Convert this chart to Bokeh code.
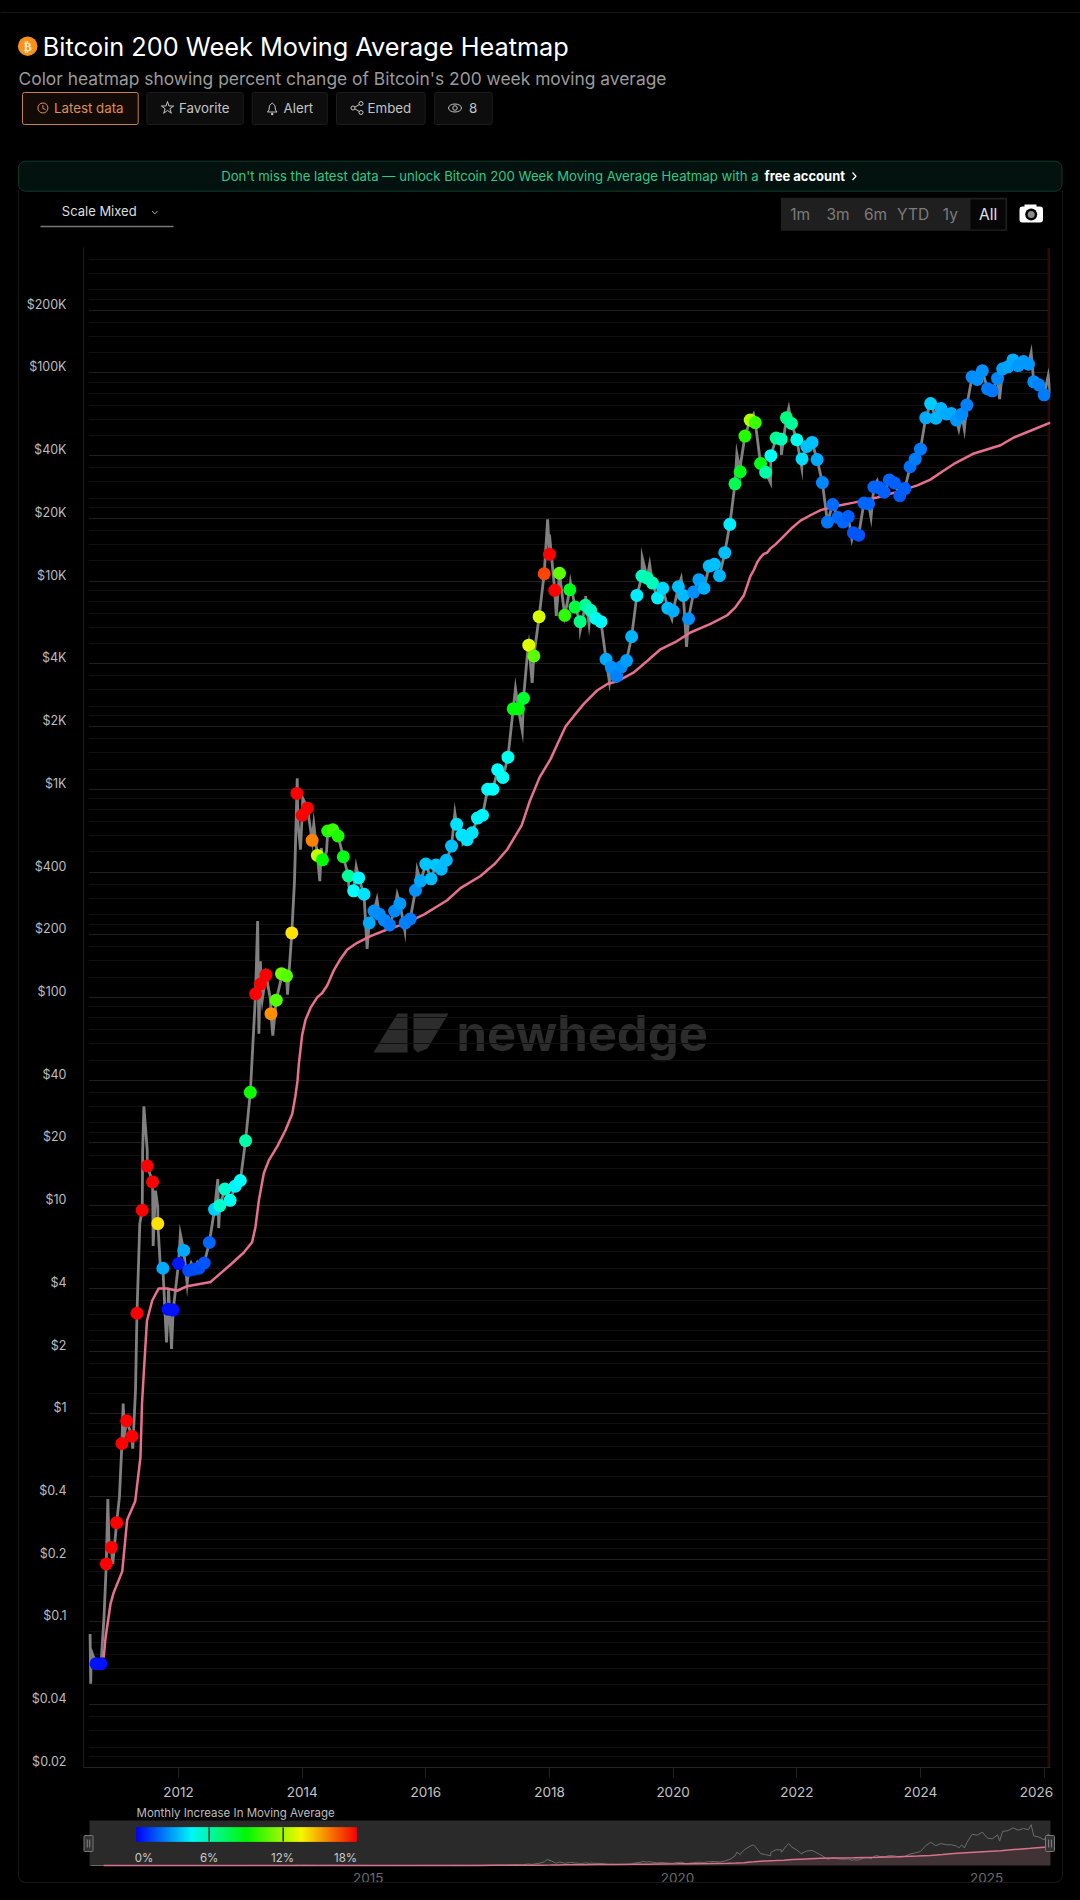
import numpy as np
import pandas as pd
from bokeh.core.properties import value
from bokeh.embed import file_html
from bokeh.layouts import column
from bokeh.models import BoxAnnotation, FixedTicker, LinearScale, LogAxis, LogScale, Range1d
from bokeh.plotting import figure
from bokeh.resources import INLINE

TITLE = "Bitcoin 200 Week Moving Average Heatmap"
SUBTITLE = "Color heatmap showing percent change of Bitcoin's 200 week moving average"
LEGEND_TITLE = "Monthly Increase In Moving Average"
BANNER_A = "Don't miss the latest data \u2014 unlock Bitcoin 200 Week Moving Average Heatmap with a"
BANNER_B = "free account"

# monthly markers, first value is September 2010
PRICE_2010 = [0.063, 0.063, 0.19, 0.228]
PRICE_2011 = [0.30, 0.72, 0.925, 0.78, 3.04, 9.5, 15.5, 13, 8.2, 5.0, 3.18, 3.15]
PRICE_2012 = [5.27, 6.09, 4.88, 4.95, 5.0, 5.3, 6.65, 9.6, 10, 12, 10.6, 12.4]
PRICE_2013 = [13.2, 20.5, 35, 104, 116, 128, 83.5, 97, 130, 127, 204, 955]
PRICE_2014 = [750, 811, 568, 481, 458, 630, 638, 596, 474, 383, 325, 375]
PRICE_2015 = [313, 228, 260, 251, 235, 223, 260, 282, 228, 238, 327, 362]
PRICE_2016 = [437, 371, 433, 413, 456, 533, 678, 602, 572, 618, 727, 750]
PRICE_2017 = [1000, 1000, 1240, 1140, 1425, 2432, 2432, 2735, 4920, 4370, 6740, 10840]
PRICE_2018 = [13430, 9020, 10900, 6840, 9080, 7500, 6380, 7640, 7230, 6620, 6380, 4210]
PRICE_2019 = [3850, 3490, 3870, 4150, 5410, 8530, 10570, 10330, 9780, 8290, 9230, 7410]
PRICE_2020 = [7180, 9390, 8530, 6590, 8850, 10150, 9230, 11800, 12030, 10600, 13680, 18720]
PRICE_2021 = [29300, 33500, 49700, 59300, 57700, 36700, 33300, 40000, 48600, 48000, 60800, 57100]
PRICE_2022 = [47700, 38600, 44300, 46300, 38300, 29700, 19200, 23300, 20200, 19200, 20400, 17050]
PRICE_2023 = [16600, 23700, 23500, 28300, 28100, 26700, 30600, 29600, 25700, 27800, 35400, 38500]
PRICE_2024 = [43000, 60800, 71200, 60600, 67400, 63500, 63700, 59300, 63300, 70000, 95700, 92900]
PRICE_2025 = [102300, 83800, 82000, 94000, 104500, 106900, 115400, 108400, 113300, 110000, 90500, 87600]
PRICE_2026 = [78400]

PCT_2010 = [0.3, 0.3, 18, 18]
PCT_2011 = [18, 18, 18, 18, 18, 18, 18, 18, 14, 3, 0.3, 0.3]
PCT_2012 = [0.4, 3.0, 1.3, 1.3, 1.4, 1.5, 1.8, 3.6, 5.4, 5.4, 4.8, 4.3]
PCT_2013 = [4.5, 6, 9.2, 18, 18, 18, 15.5, 10.5, 11, 10.5, 14, 18]
PCT_2014 = [18, 18, 15.7, 12.5, 9, 9.5, 10, 9.5, 8.6, 6.3, 4.5, 4.4]
PCT_2015 = [4, 3, 2.6, 2.5, 2.4, 2.2, 2.4, 2.7, 2.3, 2.2, 2.6, 3]
PCT_2016 = [3.5, 3.3, 3.5, 3.3, 3.3, 3.4, 4, 4, 4, 4, 4.3, 4.3]
PCT_2017 = [4.4, 4.5, 4.5, 4.6, 4.8, 8.8, 8.8, 8.2, 12.9, 10.6, 12.8, 16.8]
PCT_2018 = [18, 18, 10.6, 9.8, 8.5, 8, 6.7, 6.3, 5.6, 4.8, 4.4, 3]
PCT_2019 = [2.6, 2.3, 2.5, 2.8, 3.2, 4.2, 5.5, 6, 5.7, 4.2, 3.8, 3.3]
PCT_2020 = [3.1, 3.4, 3.3, 2.6, 2.5, 2.9, 3.1, 3.3, 3.4, 3.2, 3.4, 4.2]
PCT_2021 = [7.5, 8.5, 9.6, 12, 10, 8.7, 6, 4.7, 6.6, 5.8, 6.8, 6.3]
PCT_2022 = [4.9, 3.9, 3.4, 3.4, 3, 2.4, 2.1, 1.9, 1.9, 1.8, 1.7, 1.5]
PCT_2023 = [1.5, 1.8, 1.8, 1.8, 1.8, 1.7, 1.8, 1.7, 1.6, 1.7, 2, 2.2]
PCT_2024 = [2.2, 3, 3.6, 3.2, 3.2, 3, 3, 2.7, 2.5, 2.3, 2.5, 2.6]
PCT_2025 = [2.6, 2.2, 2.1, 2.4, 2.8, 2.9, 3, 2.7, 2.7, 2.7, 2.5, 2.3]
PCT_2026 = [2.2]

# highs and lows of the weekly price between the monthly markers
SWING_YEAR = [2010.57, 2010.58, 2010.59, 2010.795, 2010.857, 2010.876, 2010.937, 2011.045, 2011.105, 2011.127,
              2011.26, 2011.305, 2011.374, 2011.42, 2011.44, 2011.494, 2011.59, 2011.628, 2011.665, 2011.71,
              2011.806, 2011.838, 2011.887, 2012.03, 2012.14, 2012.205, 2012.30, 2012.636, 2012.65,
              2013.28, 2013.30, 2013.326, 2013.354, 2013.435, 2013.487, 2013.525, 2013.65, 2013.763, 2013.876,
              2013.92, 2013.93, 2013.973, 2014.01, 2014.188, 2014.285, 2014.31, 2014.394, 2014.754, 2014.874,
              2015.05, 2015.21, 2015.537, 2015.66, 2015.86, 2016.47, 2016.6, 2017.45, 2017.56, 2017.64, 2017.72,
              2017.97, 2018.0, 2018.11, 2018.34, 2018.5, 2018.585, 2018.64, 2018.97, 2019.5, 2019.62, 2019.98,
              2020.13, 2020.217, 2021.03, 2021.09, 2021.3, 2021.575, 2021.75, 2021.87, 2022.08, 2022.89, 2023.2,
              2023.3, 2024.62, 2024.71, 2025.28, 2025.79, 2026.066, 2026.10]
SWING_PRICE = [0.0876, 0.0505, 0.0726, 0.105, 0.39, 0.24, 0.19, 0.40, 1.12, 0.8,
               0.68, 1.3, 8.2, 18, 30, 18.5, 6.4, 11.8, 9.8, 4.9,
               2.2, 4, 2.05, 7.3, 4.2, 5.3, 5.3, 13.4, 7.8,
               233, 67, 149, 97, 119, 98, 65.5, 119, 103, 362,
               1130, 700, 513, 905, 680, 362, 522, 500, 342, 425,
               171, 296, 313, 210, 412, 770, 546, 3050, 1910, 4370, 3240,
               19800, 16700, 6800, 9800, 5860, 8470, 6190, 3270, 12940, 12030, 6570,
               10300, 4830, 40800, 36400, 63300, 29700, 40400, 67700, 35100, 15900, 20200,
               30300, 53600, 53600, 74800, 125000, 96700, 79500]

MA_YEAR = [2010.79, 2010.82, 2010.90, 2010.95, 2011.09, 2011.17, 2011.30, 2011.385, 2011.41, 2011.44, 2011.49,
           2011.575, 2011.68, 2011.82, 2011.98, 2012.14, 2012.52, 2012.84, 2013.056, 2013.19, 2013.245, 2013.30,
           2013.38, 2013.46, 2013.60, 2013.73, 2013.84, 2013.89, 2013.925, 2013.945, 2014.0, 2014.054, 2014.135,
           2014.243, 2014.324, 2014.405, 2014.512, 2014.62, 2014.73, 2014.89, 2015.105, 2015.375, 2015.644, 2015.967,
           2016.346, 2016.56, 2016.885, 2017.12, 2017.32, 2017.55, 2017.68, 2017.84, 2018.017, 2018.125, 2018.26,
           2018.395, 2018.555, 2018.77, 2018.935, 2019.095, 2019.365, 2019.58, 2019.795, 2020.065, 2020.28, 2020.605,
           2020.875, 2021.01, 2021.145, 2021.25, 2021.305, 2021.36, 2021.415, 2021.465, 2021.52, 2021.575, 2021.655,
           2021.79, 2021.925, 2022.06, 2022.22, 2022.385, 2022.6, 2022.92, 2023.3, 2023.625, 2023.95, 2024.16,
           2024.355, 2024.54, 2024.865, 2025.295, 2025.51, 2025.78, 2026.10]
MA_PRICE = [0.0675, 0.084, 0.122, 0.138, 0.175, 0.31, 0.38, 0.62, 1.12, 1.6, 2.8,
            3.5, 4.0, 4.0, 3.9, 4.1, 4.3, 5.2, 5.95, 6.67, 7.9, 10.6,
            14.3, 16.5, 19.3, 23, 27.6, 33.5, 39.7, 47.5, 66, 78, 89,
            100, 105, 114, 135, 153, 170, 183, 197, 212, 225, 250,
            293, 335, 383, 440, 515, 670, 875, 1140, 1395, 1640, 2000,
            2250, 2570, 2980, 3200, 3300, 3640, 4130, 4700, 5150, 5660, 6220,
            6850, 7500, 8550, 10550, 11300, 12300, 13000, 13500, 13680, 14350, 15000,
            16450, 18030, 19500, 20700, 21900, 22800, 23800, 25200, 26800, 28800, 30700,
            33600, 36500, 41000, 44900, 48900, 52700, 57700]

YEAR_TICKS = [2012, 2014, 2016, 2018, 2020, 2022, 2024, 2026]
NAV_TICKS = [2015, 2020, 2025]
PRICE_TICKS = [0.02, 0.04, 0.1, 0.2, 0.4, 1, 2, 4, 10, 20, 40, 100, 200, 400,
               1000, 2000, 4000, 10000, 20000, 40000, 100000, 200000]
PRICE_LABELS = ["$0.02", "$0.04", "$0.1", "$0.2", "$0.4", "$1", "$2", "$4", "$10", "$20", "$40", "$100", "$200", "$400",
                "$1K", "$2K", "$4K", "$10K", "$20K", "$40K", "$100K", "$200K"]
GRID_STEPS = [1, 1.25, 1.5, 1.75, 2, 2.25, 2.5, 3, 3.5, 4, 5, 6, 7, 8, 9]
LEGEND_STOPS = [0, 6, 12, 18]
RANGE_BUTTONS = ["1m", "3m", "6m", "YTD", "1y", "All"]

prices = (PRICE_2010 + PRICE_2011 + PRICE_2012 + PRICE_2013 + PRICE_2014 + PRICE_2015 + PRICE_2016 + PRICE_2017
          + PRICE_2018 + PRICE_2019 + PRICE_2020 + PRICE_2021 + PRICE_2022 + PRICE_2023 + PRICE_2024 + PRICE_2025 + PRICE_2026)
pcts = (PCT_2010 + PCT_2011 + PCT_2012 + PCT_2013 + PCT_2014 + PCT_2015 + PCT_2016 + PCT_2017
        + PCT_2018 + PCT_2019 + PCT_2020 + PCT_2021 + PCT_2022 + PCT_2023 + PCT_2024 + PCT_2025 + PCT_2026)
months = pd.date_range("2010-09-01", periods=len(prices), freq="MS")
month_years = (months.year + (months.dayofyear - 1) / 365.25).to_numpy()

line_x = np.concatenate([month_years, SWING_YEAR])
line_y = np.concatenate([prices, SWING_PRICE])
order = np.argsort(line_x)
line_x, line_y = line_x[order], line_y[order]

STOPS = np.array([[0, 0, 255], [0, 255, 255], [0, 255, 0], [255, 255, 0], [255, 0, 0]], dtype=float)


def heat(p):
    t = np.clip(p / 18.0, 0, 1) * 4
    i = min(int(t), 3)
    c = STOPS[i] + (STOPS[i + 1] - STOPS[i]) * (t - i)
    return "#%02x%02x%02x" % tuple(int(round(v)) for v in c)


FONT = value("Inter")
BG = "#000000"
FIG_W = 1080


def text(p, x, y, s, size, color, align="left", style="normal", font=FONT, **kw):
    p.text(x=[x], y=[y], text=[s], text_font=font, text_font_size=size, text_color=color,
           text_align=align, text_baseline="middle", text_font_style=style, **kw)


def box(p, x0, x1, y0, y1, fill, line=None, r=0, **kw):
    p.add_layout(BoxAnnotation(left=x0, right=x1, top=y0, bottom=y1, fill_color=fill, fill_alpha=1,
                               line_color=line, line_alpha=1, line_width=1, border_radius=r,
                               level="underlay", **kw))


# ---------- header ----------
hdr = figure(width=FIG_W, height=240, x_range=Range1d(0, 1080), y_range=Range1d(240, 0), toolbar_location=None,
             output_backend="svg", min_border=0, background_fill_color=BG, border_fill_color=BG,
             outline_line_color=None, x_axis_location=None, y_axis_location=None)
hdr.frame_align = False
hdr.grid.visible = False

hdr.line([0, 1080], [12, 12], line_color="#161616", line_width=1)
hdr.scatter([27.2], [45.7], size=19.5, fill_color="#f7931a", line_color=None)
text(hdr, 27.2, 46, "\u20bf", "12px", "#ffe9cc", "center", "bold", value("DejaVu Sans"))
text(hdr, 42.3, 45.5, TITLE, "25.3px", "#ffffff")
text(hdr, 18, 78, SUBTITLE, "17.4px", "#9a9a9a")

box(hdr, 22, 137.7, 92, 124, "#120a05", "#c88148", 2)
for x0, x1 in [(146.3, 242.8), (251.7, 326.8), (336, 424.6), (433.9, 491.7)]:
    box(hdr, x0, x1, 92, 124, "#0d0d0d", "#1c1c1c", 2)
text(hdr, 53.5, 107.5, "Latest data", "13.3px", "#df8f54")
text(hdr, 178.5, 107.5, "Favorite", "13.3px", "#c4c4c4")
text(hdr, 283, 107.5, "Alert", "13.3px", "#c4c4c4")
text(hdr, 367, 107.5, "Embed", "13.3px", "#c4c4c4")
text(hdr, 472.5, 107.5, "8", "13.3px", "#c4c4c4", "center")
# button icons
hdr.scatter([42.4], [107.5], size=10, fill_color=None, line_color="#df8f54", line_width=1)
hdr.line([42.4, 42.4, 45], [104.5, 108, 109], line_color="#df8f54", line_width=1)
hdr.scatter([167], [107.5], marker="star", size=13, fill_color=None, line_color="#c4c4c4", line_width=1)
hdr.line([267, 268.5, 269, 271.7, 274.4, 275, 276.5, 267], [111.5, 109.5, 105, 102.5, 105, 109.5, 111.5, 111.5],
         line_color="#c4c4c4", line_width=1)
hdr.scatter([271.7], [113.5], size=2.5, fill_color="#c4c4c4", line_color=None)
hdr.line([360.5, 353, 360.5], [103, 107.5, 112], line_color="#c4c4c4", line_width=1)
hdr.scatter([360.5, 352.5, 360.5], [103, 107.5, 112], size=4, fill_color="#0d0d0d", line_color="#c4c4c4", line_width=1)
hdr.ellipse([454.5], [107.5], width=13, height=8, fill_color=None, line_color="#c4c4c4", line_width=1)
hdr.scatter([454.5], [107.5], size=4.5, fill_color=None, line_color="#c4c4c4", line_width=1)

# banner
box(hdr, 18, 1061.5, 160.7, 190.7, "#03120e", "#0f3a2b", 7)
text(hdr, 220.7, 175.7, BANNER_A, "13.17px", "#2fc98c")
text(hdr, 764, 175.7, BANNER_B, "13px", "#ffffff", style="bold")
hdr.line([852, 855.5, 852], [172, 175.7, 179.5], line_color="#ffffff", line_width=1.3)

# scale selector
text(hdr, 61.3, 210.5, "Scale Mixed", "13px", "#dddddd")
hdr.line([151.5, 154.3, 157], [210.5, 213.5, 210.5], line_color="#aaaaaa", line_width=1)
hdr.line([40, 173], [226, 226], line_color="#777777", line_width=1.5)

# range buttons
box(hdr, 780.4, 1006.6, 197.3, 230.3, "#1f1f1f")
box(hdr, 970, 1005, 199, 229, "#060606")
for bx, lab in zip([799.6, 837.5, 875, 912.6, 949.8, 987.7], RANGE_BUTTONS):
    text(hdr, bx, 214.3, lab, "15.5px", "#e2e2e2" if lab == "All" else "#7c7c7c", "center")

# camera icon
box(hdr, 1019, 1042.5, 206, 222, "#ffffff", None, 3)
hdr.quad(left=[1024], right=[1036], top=[204], bottom=[207], fill_color="#ffffff", line_color=None)
hdr.scatter([1030.7], [214], size=12, fill_color="#000000", line_color=None)
hdr.scatter([1030.7], [214], size=7, fill_color="#8a8a8a", line_color=None)

# ---------- main chart ----------
Y_MIN, Y_MAX = 0.02, 400000
X_MIN, X_MAX = 2010.4635, 2026.103
LABEL_LIFT = 10 ** (6 / 208.2)  # the price labels sit 6px above their grid lines
main = figure(width=FIG_W, height=1565, x_range=Range1d(X_MIN, X_MAX), y_range=Range1d(Y_MIN, Y_MAX),
              y_axis_type="log", toolbar_location=None, output_backend="svg",
              min_border_left=83, min_border_right=30, min_border_top=7, min_border_bottom=38,
              background_fill_color=BG, border_fill_color=BG, outline_line_color=None)
main.frame_align = False
main.extra_x_ranges = {"px": Range1d(83, 1050)}
main.extra_y_ranges = {"px": Range1d(1767, 247), "lab": Range1d(Y_MIN / LABEL_LIFT, Y_MAX / LABEL_LIFT)}
main.extra_x_scales = {"px": LinearScale()}
main.extra_y_scales = {"px": LinearScale(), "lab": LogScale()}

minor = [s * 10.0 ** d for d in range(-2, 6) for s in GRID_STEPS
         if Y_MIN <= s * 10.0 ** d <= Y_MAX and not any(abs(s * 10.0 ** d - t) < 1e-9 * t for t in PRICE_TICKS)]
main.yaxis[0].visible = False
main.ygrid[0].ticker = FixedTicker(ticks=PRICE_TICKS, minor_ticks=minor)
yaxis = LogAxis(y_range_name="lab", ticker=FixedTicker(ticks=PRICE_TICKS, minor_ticks=[]),
                major_label_overrides=dict(zip(PRICE_TICKS, PRICE_LABELS)))
yaxis.major_label_text_color = "#bdbdbd"
yaxis.major_label_text_font = "Inter"
yaxis.major_label_text_font_size = "12.5px"
yaxis.major_tick_in = 0
yaxis.major_tick_out = 0
yaxis.major_label_standoff = 17
yaxis.major_tick_line_color = None
yaxis.minor_tick_line_color = None
yaxis.axis_line_color = "#1c1c1c"
main.add_layout(yaxis, "left")

xaxis = main.xaxis[0]
xaxis.ticker = FixedTicker(ticks=YEAR_TICKS, minor_ticks=[])
# the last year label is pushed left so that it stays inside the plot width
xaxis.major_label_overrides = {t: (str(t) + "\u00a0" * 4 if t == 2026 else str(t)) for t in YEAR_TICKS}
xaxis.major_label_text_color = "#c4c4c4"
xaxis.major_label_text_font = "Inter"
xaxis.major_label_text_font_size = "13.5px"
xaxis.major_label_standoff = 6
xaxis.major_tick_in = 0
xaxis.major_tick_out = 10
xaxis.major_tick_line_color = "#222222"
xaxis.minor_tick_line_color = None
xaxis.axis_line_color = "#222222"

main.xgrid.visible = False
main.ygrid[0].grid_line_color = "#1f1f1f"
main.ygrid[0].minor_grid_line_color = "#101010"

px = dict(x_range_name="px", y_range_name="px")
# mask under the y axis line and the red band at the latest data
main.add_layout(BoxAnnotation(left=83, right=88.5, top=247, bottom=1767, fill_color=BG, fill_alpha=1,
                              line_color=None, level="underlay", **px))
main.add_layout(BoxAnnotation(left=1047, right=1050, top=247, bottom=1767, fill_color="#2a0b0b", fill_alpha=1,
                              line_color=None, level="underlay", **px))

# watermark
main.patch([373, 397, 407, 407], [1052, 1013, 1013, 1052], fill_color="#2c2c2c", line_color=None, level="underlay", **px)
main.patch([413, 448, 427, 417, 413], [1013, 1013, 1048, 1052, 1048], fill_color="#2c2c2c", line_color=None, level="underlay", **px)
main.text(x=[456], y=[1033], text=["newhedge"], text_font=value("Inter"), text_font_size="49px", text_font_style="bold",
          text_color="#2c2c2c", text_baseline="middle", level="underlay", **px)

main.line(line_x, line_y, line_color="#808080", line_width=2.8, line_join="miter")
main.line(MA_YEAR, MA_PRICE, line_color="#e8708f", line_width=2.5)
main.scatter(month_years, prices, size=13, fill_color=[heat(v) for v in pcts], line_color=None)

# ---------- navigator ----------
NAV_PER_PX = 138000 / 45
nav = figure(width=FIG_W, height=95, x_range=Range1d(2009.121, 2026.588),
             y_range=Range1d(-(1900 - 1865) * NAV_PER_PX, (1865 - 1805) * NAV_PER_PX),
             toolbar_location=None, output_backend="svg", min_border=0,
             background_fill_color=BG, border_fill_color=BG, outline_line_color=None,
             x_axis_location=None, y_axis_location=None)
nav.frame_align = False
nav.extra_x_ranges = {"px": Range1d(0, 1080)}
nav.extra_y_ranges = {"px": Range1d(1900, 1805)}
nav.extra_x_scales = {"px": LinearScale()}
nav.extra_y_scales = {"px": LinearScale()}
nav.grid.visible = False

box(nav, 89, 1050, 1820, 1865, "#292a29", **px)
nav.varea(MA_YEAR, 0, MA_PRICE, fill_color="#e8708f", fill_alpha=0.12)
nav.line(line_x, line_y, line_color="#6c6c6c", line_width=1)
nav.line(MA_YEAR, MA_PRICE, line_color="#d9728c", line_width=1.5)
for t in NAV_TICKS:
    nav.text(x=[t + 0.07], y=[1877], text=[str(t)], text_font=FONT, text_font_size="13.5px", text_color="#6a6a6a",
             text_align="center", text_baseline="middle", y_range_name="px")

# legend
bar = np.linspace(0, 18, 221)
bar_colors = [heat(v) for v in bar[:-1]]
nav.quad(left=136 + np.arange(220.0), right=137 + np.arange(220.0), top=1827, bottom=1841,
         fill_color=bar_colors, line_color=bar_colors, line_width=0.6, **px)
for xc in [208.7, 282.7]:
    nav.line([xc, xc], [1827, 1841], line_color="#2a2a2a", line_width=1.5, **px)
text(nav, 136, 1812, LEGEND_TITLE, "11.5px", "#bdbdbd", **px)
for xc, s in zip([143.6, 208.7, 282, 345], LEGEND_STOPS):
    text(nav, xc, 1857, "%d%%" % s, "11.5px", "#cccccc", "center", **px)

# navigator handles
for xc in [88, 1049.5]:
    nav.add_layout(BoxAnnotation(left=xc - 4.5, right=xc + 4.5, top=1835, bottom=1851, fill_color="#333333",
                                 fill_alpha=1, line_color="#777777", line_alpha=1, border_radius=1, **px))
    for d in [-1.3, 1.3]:
        nav.add_layout(BoxAnnotation(left=xc + d - 0.4, right=xc + d + 0.4, top=1839, bottom=1847, fill_color="#999999",
                                     fill_alpha=1, line_color=None, **px))

page = column(hdr, main, nav, spacing=0)
html = file_html(page, INLINE)
html = html.replace("</head>", "<style>html,body{background:#000000 !important;overflow:hidden}</style></head>", 1)
# outline of the card that holds the chart, it spans all three figures
html = html.replace("</body>", '<div style="position:absolute;left:18px;top:190px;width:1043px;height:1692px;'
                               'border:1px solid #171717;border-top:none;border-radius:0 0 8px 8px;'
                               'pointer-events:none"></div></body>', 1)
open("out.html", "w").write(html)
